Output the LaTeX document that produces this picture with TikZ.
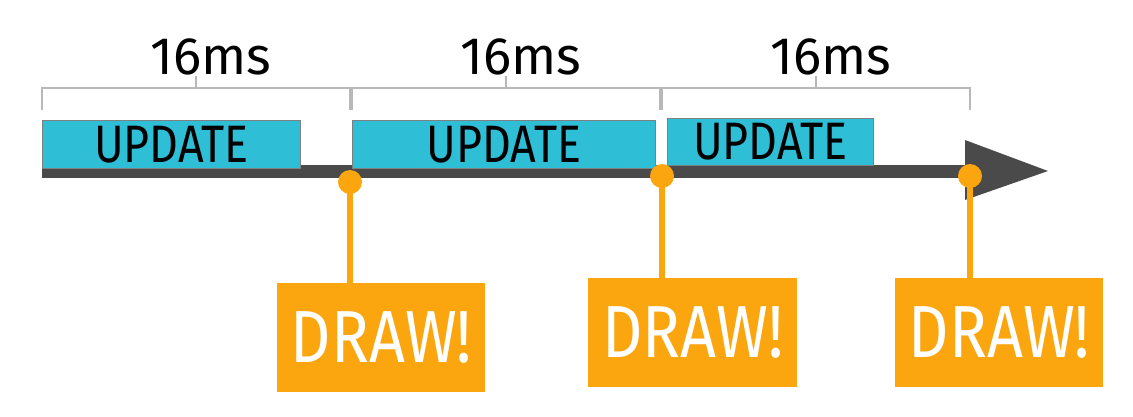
\documentclass[tikz,border=0pt]{standalone}
\usepackage{fontspec}
\setmainfont{Fira Sans}
\definecolor{upd}{HTML}{2EBFD6}
\definecolor{org}{HTML}{FBA50F}
\definecolor{bar}{HTML}{4A4A4A}
\definecolor{brc}{HTML}{B8B8B8}
\begin{document}
\begin{tikzpicture}[x=0.02cm,y=-0.02cm,
  updbox/.style={draw=bar!70,line width=0.6pt,fill=upd,inner sep=0,anchor=north west,font=\fontsize{30}{30}\selectfont\addfontfeature{FakeStretch=0.85}},
  drawbox/.style={fill=org,text=white,inner sep=0,anchor=north west,font=\fontsize{42}{42}\selectfont\addfontfeature{FakeStretch=0.85}},
  dot/.style={circle,fill=org,inner sep=0,minimum size=0.48cm},
  stem/.style={org,line width=3.5pt},
  brace/.style={brc,line width=1.6pt},
  lbl/.style={font=\fontsize{30}{30}\selectfont}]
\useasboundingbox (0,0) rectangle (1133,416);
% timeline
\fill[bar] (42,165) rectangle (975,178);
\fill[bar] (965,140) -- (1048,171) -- (965,200) -- cycle;
% update boxes
\node[updbox,minimum width=5.16cm,minimum height=0.96cm] (u1) at (42,120) {UPDATE};
\node[updbox,minimum width=6.06cm,minimum height=0.96cm] (u2) at (352,120) {UPDATE};
\node[updbox,minimum width=4.12cm,minimum height=0.94cm] (u3) at (667,118) {UPDATE};
% braces
\foreach \a/\b/\n in {42/350/a,352/660/b,662/970/c}{
  \draw[brace] (\a,110) -- (\a,88) -- (\b,88) -- (\b,110);
  \draw[brace] ({(\a+\b)/2},88) -- ({(\a+\b)/2},76);
  \node[lbl] (l\n) at ({(\a+\b)/2+15},57) {16ms};
}
% draw boxes
\node[drawbox,minimum width=4.16cm,minimum height=2.18cm] (d1) at (277,283) {DRAW!};
\node[drawbox,minimum width=4.18cm,minimum height=2.18cm] (d2) at (588,278) {DRAW!};
\node[drawbox,minimum width=4.16cm,minimum height=2.18cm] (d3) at (895,278) {DRAW!};
\node[dot] (p1) at (350,182) {};
\node[dot] (p2) at (662,176) {};
\node[dot] (p3) at (970,176) {};
\draw[stem] (p1.center) -- (p1.center |- d1.north);
\draw[stem] (p2.center) -- (p2.center |- d2.north);
\draw[stem] (p3.center) -- (p3.center |- d3.north);
\end{tikzpicture}
\end{document}
